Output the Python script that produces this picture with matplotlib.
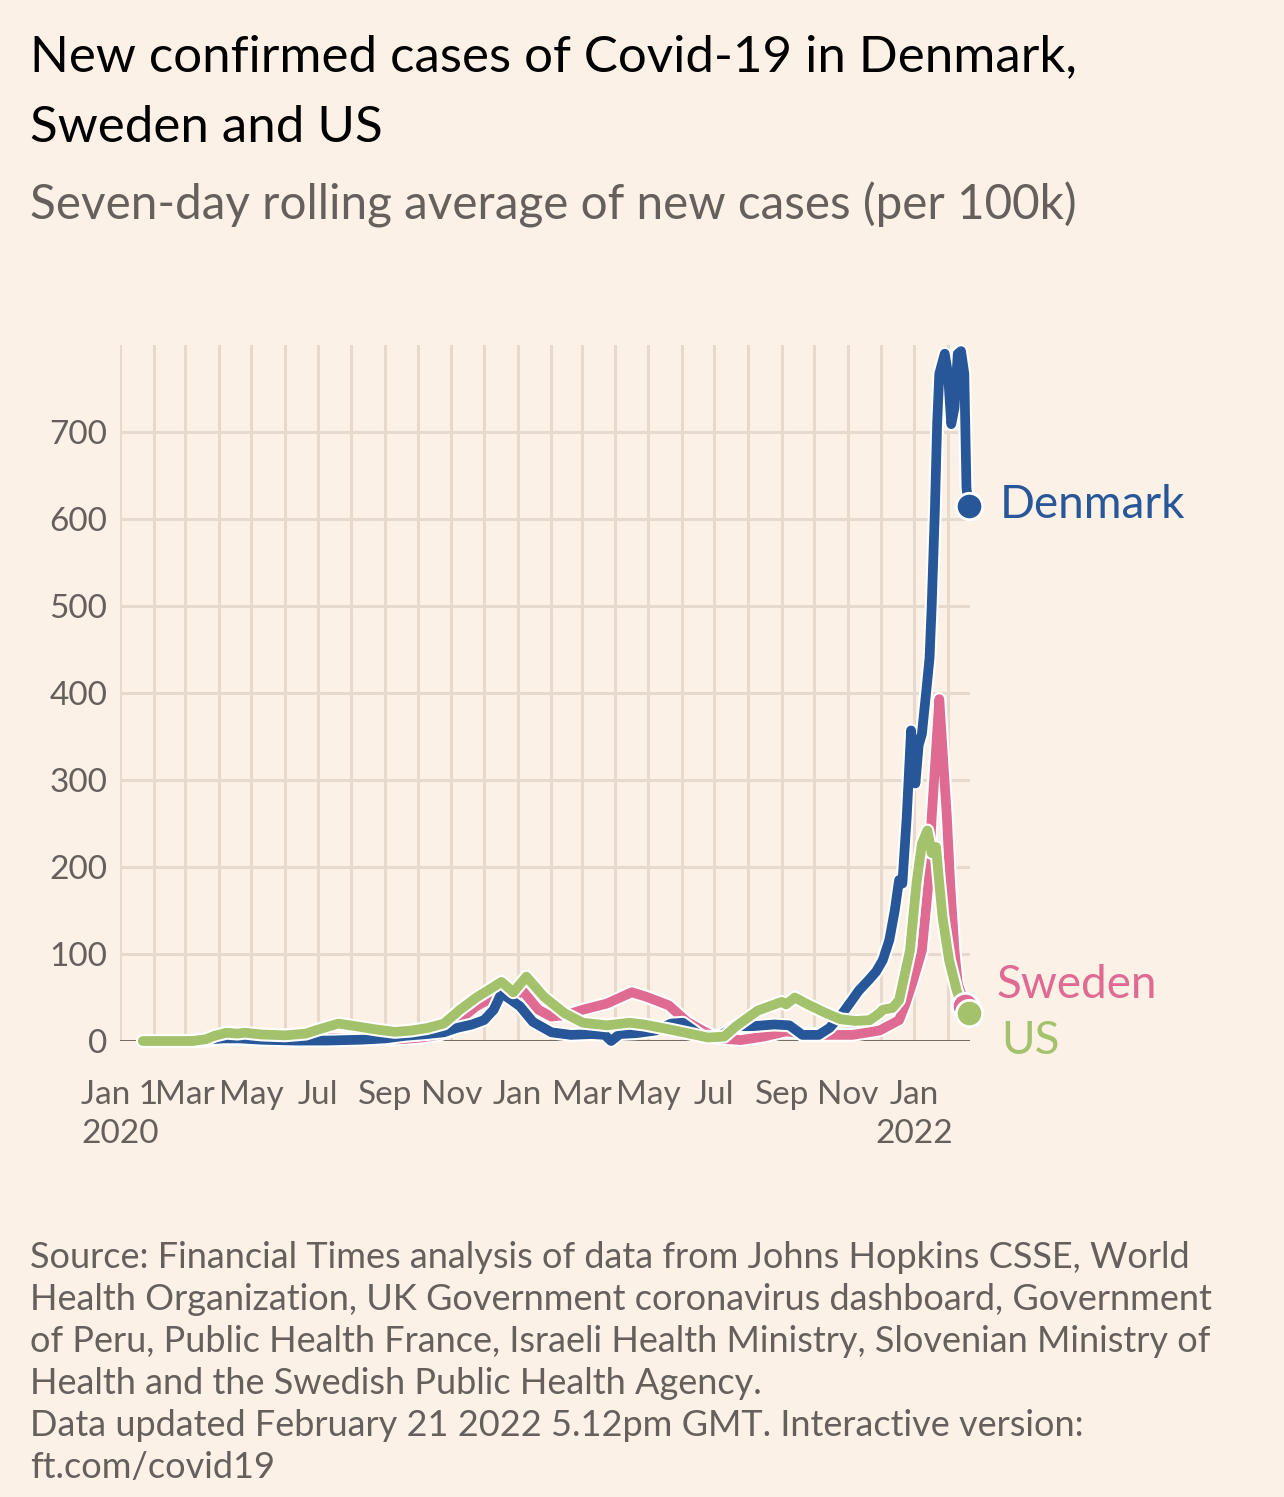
import matplotlib
matplotlib.use("Agg")
import matplotlib.pyplot as plt
import matplotlib.dates as mdates
import matplotlib.patheffects as pe
import pandas as pd

# values (7-day avg, cases per 100k)
denmarkDates = ["2020-01-22", "2020-03-01", "2020-03-15", "2020-04-05", "2020-04-20", "2020-05-10",
	"2020-06-10", "2020-07-10", "2020-08-10", "2020-09-01", "2020-09-20", "2020-10-10", "2020-10-25",
	"2020-11-06", "2020-11-20", "2020-12-01", "2020-12-10", "2020-12-17", "2020-12-25", "2021-01-03",
	"2021-01-15", "2021-02-01", "2021-02-19", "2021-03-10", "2021-03-22", "2021-03-28", "2021-04-05",
	"2021-04-20", "2021-05-08", "2021-05-22", "2021-06-02", "2021-06-20", "2021-07-05", "2021-07-20",
	"2021-08-05", "2021-08-25", "2021-09-08", "2021-09-20", "2021-10-05", "2021-10-15", "2021-10-27",
	"2021-11-03", "2021-11-11", "2021-11-20", "2021-11-27", "2021-12-03", "2021-12-09", "2021-12-14",
	"2021-12-18", "2021-12-21", "2021-12-25", "2021-12-29", "2022-01-02", "2022-01-05", "2022-01-08",
	"2022-01-12", "2022-01-15", "2022-01-17", "2022-01-20", "2022-01-22", "2022-01-24", "2022-01-29",
	"2022-02-01", "2022-02-04", "2022-02-07", "2022-02-10", "2022-02-13", "2022-02-16", "2022-02-18",
	"2022-02-20"]
denmarkValues = [0, 0, 1, 3, 3, 1.5,
	0.5, 0.5, 1.5, 3, 6, 8, 10,
	15, 19, 24, 36, 55, 48, 40,
	22, 10, 7, 8, 7, 0, 8,
	9, 12, 20, 21, 5, 5, 17,
	17, 19, 18, 7, 7, 15, 32,
	44, 58, 70, 80, 93, 116, 150,
	185, 181, 257, 357, 296, 340, 353,
	402, 440, 500, 613, 709, 767, 790,
	767, 709, 728, 790, 793, 767, 636,
	615]

swedenDates = ["2020-01-22", "2020-03-10", "2020-03-25", "2020-04-10", "2020-04-25", "2020-05-15",
	"2020-06-05", "2020-06-20", "2020-07-10", "2020-07-25", "2020-08-20", "2020-09-15", "2020-10-05",
	"2020-10-20", "2020-11-01", "2020-11-12", "2020-11-24", "2020-12-06", "2020-12-14", "2020-12-24",
	"2021-01-06", "2021-01-20", "2021-02-01", "2021-02-15", "2021-03-02", "2021-03-24", "2021-04-16",
	"2021-04-29", "2021-05-20", "2021-06-06", "2021-06-20", "2021-07-05", "2021-07-25", "2021-08-15",
	"2021-09-05", "2021-09-20", "2021-10-10", "2021-11-05", "2021-11-30", "2021-12-18", "2021-12-24",
	"2021-12-30", "2022-01-08", "2022-01-14", "2022-01-17", "2022-01-21", "2022-01-24", "2022-01-27",
	"2022-01-31", "2022-02-03", "2022-02-07", "2022-02-10", "2022-02-17"]
swedenValues = [0, 0, 1, 3, 2, 1,
	3, 4.5, 4, 3, 2, 2, 4,
	7, 12, 28, 40, 48, 55, 50,
	57, 36, 28, 30, 36, 43, 56,
	51, 41, 22, 12, 3, 1, 5,
	11, 9, 7, 7, 12, 24, 43,
	66, 104, 181, 257, 334, 393, 334,
	257, 181, 104, 66, 40]

usDates = ["2020-01-22", "2020-03-08", "2020-03-20", "2020-03-28", "2020-04-08", "2020-04-18",
	"2020-04-25", "2020-05-10", "2020-06-01", "2020-06-20", "2020-07-01", "2020-07-20", "2020-08-05",
	"2020-08-25", "2020-09-10", "2020-09-25", "2020-10-10", "2020-10-25", "2020-11-09", "2020-11-24",
	"2020-12-07", "2020-12-17", "2020-12-28", "2021-01-09", "2021-01-25", "2021-02-13", "2021-03-02",
	"2021-03-24", "2021-04-14", "2021-04-27", "2021-05-22", "2021-06-10", "2021-06-25", "2021-07-10",
	"2021-07-21", "2021-08-10", "2021-09-01", "2021-09-05", "2021-09-13", "2021-09-25", "2021-10-10",
	"2021-10-25", "2021-11-08", "2021-11-21", "2021-11-30", "2021-12-03", "2021-12-12", "2021-12-18",
	"2021-12-28", "2022-01-03", "2022-01-08", "2022-01-13", "2022-01-17", "2022-01-21", "2022-01-24",
	"2022-01-27", "2022-02-02", "2022-02-09", "2022-02-13", "2022-02-20"]
usValues = [0, 0, 2, 6, 9.5, 8.5,
	9.5, 7.5, 6.5, 8.5, 13, 20, 17,
	13, 10.5, 12, 15, 20, 36, 50,
	60, 68, 56, 74, 51, 32, 21,
	18, 21, 19, 13, 8, 4, 5,
	17, 35, 45, 42, 50, 42, 33,
	25, 23, 24, 32, 36, 38, 47,
	104, 181, 227, 242, 216, 223, 181,
	142, 93, 58, 44, 32]

tickDates = ["2020-01-01", "2020-03-01", "2020-05-01", "2020-07-01", "2020-09-01", "2020-11-01",
	"2021-01-01", "2021-03-01", "2021-05-01", "2021-07-01", "2021-09-01", "2021-11-01", "2022-01-01"]
tickLabels = ["Jan 1\n2020", "Mar", "May", "Jul", "Sep", "Nov", "Jan", "Mar", "May", "Jul", "Sep", "Nov", "Jan\n2022"]
yTicks = [0, 100, 200, 300, 400, 500, 600, 700]

bg = "#fcf1e7"
grey = "#66605c"
blue = "#275699"
pink = "#df6a92"
green = "#a3c26b"

plt.rcParams["font.family"] = ["Lato", "DejaVu Sans"]

W, H = 1284, 1497
fig = plt.figure(figsize=(W / 100, H / 100), dpi=100, facecolor=bg)
ax = fig.add_axes([120 / W, 1 - 1041 / H, 850 / W, 696 / H])
ax.set_facecolor(bg)

for s in ax.spines.values():
	s.set_visible(False)

ax.set_ylim(0, 800)
ax.set_xlim(pd.Timestamp("2020-01-01"), pd.Timestamp("2022-02-21 06:00"))
ax.set_yticks(yTicks)
ax.set_xticks(pd.to_datetime(tickDates))
ax.set_xticklabels(tickLabels, linespacing=1.4)
ax.xaxis.set_minor_locator(mdates.MonthLocator())
ax.tick_params(axis="both", which="both", length=0, labelcolor=grey, labelsize=24)
ax.tick_params(axis="x", pad=28)
ax.tick_params(axis="y", pad=9)
ax.grid(axis="x", which="both", color="#e6dace", lw=2.2)
ax.grid(axis="y", which="major", color="#e6dace", lw=2.2)
ax.set_axisbelow(True)
ax.axhline(0, color=grey, lw=2, zorder=2)

outline = [pe.Stroke(linewidth=10, foreground="white"), pe.Normal()]
series = [(swedenDates, swedenValues, pink, 3), (denmarkDates, denmarkValues, blue, 4), (usDates, usValues, green, 5)]
for dates, values, color, z in series:
	d = pd.to_datetime(dates)
	ax.plot(d, values, color=color, lw=7, solid_joinstyle="round", solid_capstyle="round",
		path_effects=outline, clip_on=False, zorder=z)
for dates, values, color, z in series:
	ax.plot(pd.to_datetime(dates[-1:]), values[-1:], "o", ms=19, mfc=color, mec="white", mew=2,
		clip_on=False, zorder=z + 5)

fig.text(1000 / W, 1 - 505 / H, "Denmark", color=blue, fontsize=33, va="center")
fig.text(997 / W, 1 - 985 / H, "Sweden", color=pink, fontsize=33, va="center")
fig.text(1001 / W, 1 - 1041 / H, "US", color=green, fontsize=33, va="center")

fig.text(30 / W, 1 - 71 / H, "New confirmed cases of Covid-19 in Denmark,", fontsize=36.7, color="black", va="baseline")
fig.text(30 / W, 1 - 142 / H, "Sweden and US", fontsize=36.7, color="black", va="baseline")
fig.text(30 / W, 1 - 220 / H, "Seven-day rolling average of new cases (per 100k)", fontsize=34.3, color=grey, va="baseline")

source = ["Source: Financial Times analysis of data from Johns Hopkins CSSE, World",
	"Health Organization, UK Government coronavirus dashboard, Government",
	"of Peru, Public Health France, Israeli Health Ministry, Slovenian Ministry of",
	"Health and the Swedish Public Health Agency.",
	"Data updated February 21 2022 5.12pm GMT. Interactive version:",
	"ft.com/covid19"]
for i, line in enumerate(source):
	fig.text(30 / W, 1 - (1268 + i * 42) / H, line, fontsize=26, color=grey, va="baseline")

fig.savefig("out.png", dpi=100, facecolor=bg)
